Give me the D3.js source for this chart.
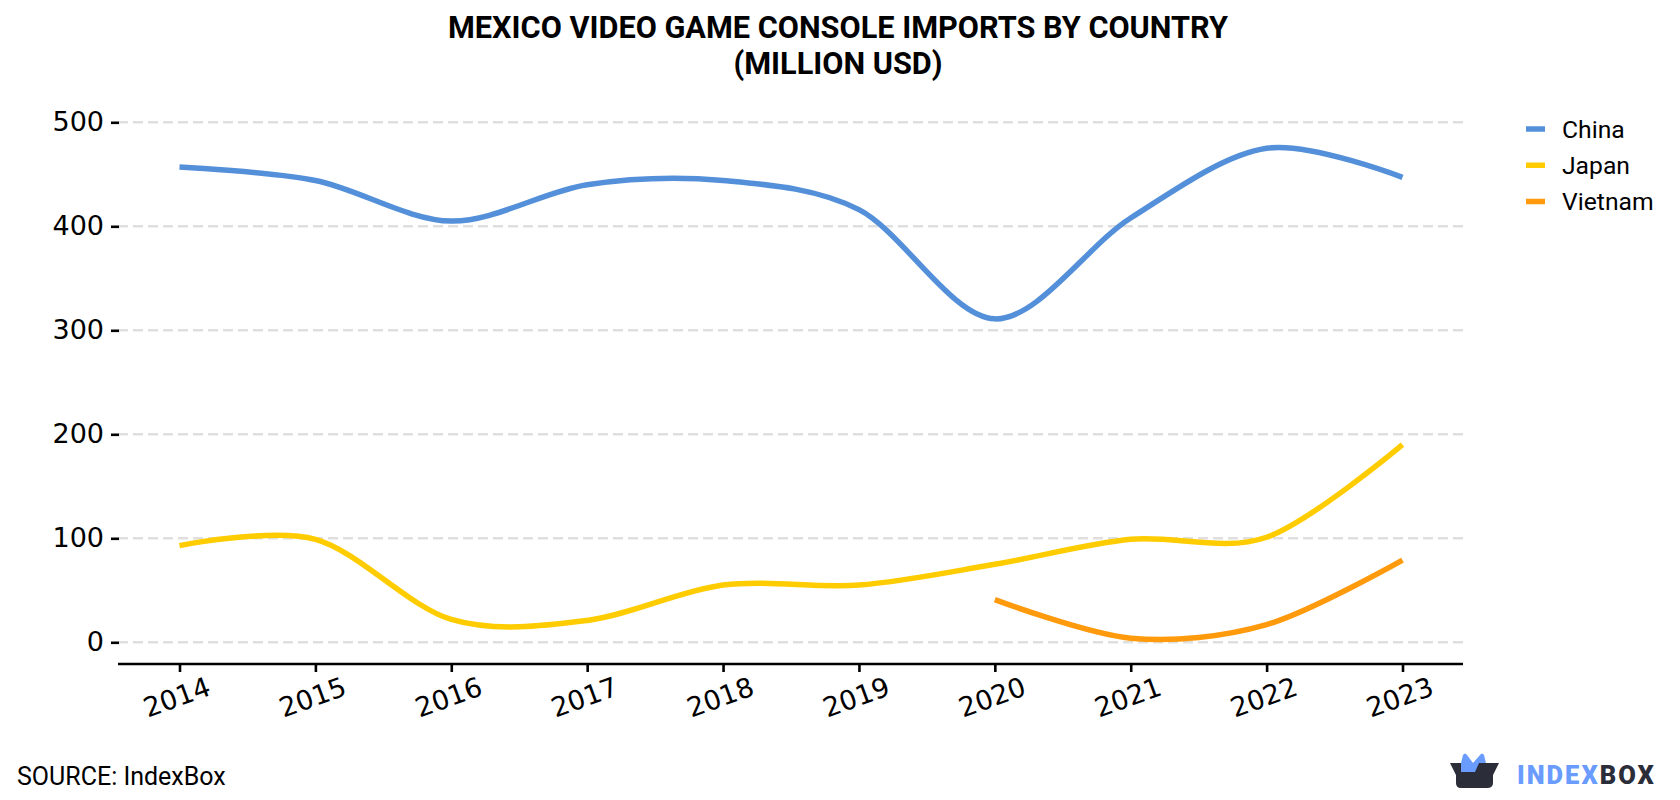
<!DOCTYPE html>
<html><head><meta charset="utf-8">
<script src="https://cdn.jsdelivr.net/npm/d3@7"></script>
<style>html,body{margin:0;background:#fff}svg{display:block}</style></head>
<body><div id="chart"></div>
<script>
const years = [2014,2015,2016,2017,2018,2019,2020,2021,2022,2023];
const china = [457,444,405,440,444,416,311,408,475,447];
const japan = [93,99,22,21,55,55,75,99,101,190];
const vietnam = [null,null,null,null,null,null,41,4,17,79];
const yTicks = [0,100,200,300,400,500];
const seriesNames = ["China","Japan","Vietnam"];
const seriesColors = ["#5490da","#ffcc00","#ff9a0c"];
const seriesValues = [china,japan,vietnam];

const svg = d3.select("#chart").append("svg").attr("width",1680).attr("height",800);
const x = d3.scaleLinear().domain([2014,2023]).range([179.5,1402.5]);
const y = d3.scaleLinear().domain([0,500]).range([642.3,122.3]);
const plotLeft = 118, plotRight = 1463, axisY = 664;

// Horizontal dashed grid
svg.append("g").selectAll("line").data(yTicks).join("line")
  .attr("x1",plotLeft).attr("x2",plotRight).attr("y1",d=>y(d)).attr("y2",d=>y(d))
  .attr("stroke","#dfdfdf").attr("stroke-width",2.6).attr("stroke-dasharray","10 5");

// Left axis: ticks and labels only
const yAxis = svg.append("g").attr("transform",`translate(${plotLeft+1},0)`)
  .call(d3.axisLeft(y).tickValues(yTicks).tickSize(8).tickPadding(7));
yAxis.select(".domain").remove();
yAxis.selectAll("line").attr("stroke","#000").attr("stroke-width",2.6);
yAxis.selectAll("text").attr("font-family","DejaVu Sans").attr("font-size",27).attr("fill","#000");

// Bottom axis with slanted year labels
const xAxis = svg.append("g").attr("transform",`translate(0,${axisY})`)
  .call(d3.axisBottom(x).tickValues(years).tickFormat(d3.format("d")).tickSize(8).tickSizeOuter(0));
xAxis.select(".domain").attr("d",`M${plotLeft},0H${plotRight}`).attr("stroke","#000").attr("stroke-width",2.6);
xAxis.selectAll("line").attr("stroke","#000").attr("stroke-width",2.6);
xAxis.selectAll("text").attr("font-family","DejaVu Sans").attr("font-size",27).attr("fill","#000")
  .attr("text-anchor","middle").attr("dy",0).attr("y",0)
  .attr("transform","translate(0,42) rotate(-20)");

// Smoothed series lines
const line = d3.line().x(d=>x(d.year)).y(d=>y(d.v)).curve(d3.curveCardinal.tension(0.05));
seriesValues.forEach((vals,i)=>{
  const pts = years.map((year,j)=>({year,v:vals[j]})).filter(d=>d.v!==null);
  svg.append("path").attr("d",line(pts)).attr("fill","none")
    .attr("stroke",seriesColors[i]).attr("stroke-width",5.5);
});

// Legend
const legendY = d3.scalePoint().domain(seriesNames).range([129,201.5]);
const legend = svg.append("g").selectAll("g").data(seriesNames).join("g")
  .attr("transform",d=>`translate(0,${legendY(d)})`);
legend.append("line").attr("x1",1526).attr("x2",1545)
  .attr("stroke",(d,i)=>seriesColors[i]).attr("stroke-width",5.5);
legend.append("text").attr("x",1562).attr("dy","0.35em").text(d=>d)
  .attr("font-family","Roboto").attr("font-size",24.7).attr("fill","#000");

// Title
const title = svg.append("text")
  .attr("font-family","Roboto").attr("font-weight",700).attr("font-size",30.7).attr("fill","#000")
  .attr("text-anchor","middle");
title.append("tspan").attr("x",838).attr("y",38).text("MEXICO VIDEO GAME CONSOLE IMPORTS BY COUNTRY");
title.append("tspan").attr("x",838).attr("y",74).text("(MILLION USD)");

// Source note
svg.append("text").attr("x",17).attr("y",785).text("SOURCE: IndexBox")
  .attr("font-family","Roboto").attr("font-size",25).attr("fill","#000");

// Brand mark
const brand = svg.append("g");
brand.append("path").attr("fill","#2b2d38")
  .attr("d","M1450,763L1499,763L1493,775L1493,783Q1493,788 1487,788L1461,788Q1456,788 1456,783L1456,775Z");
brand.append("path").attr("fill","#6a9cff")
  .attr("d","M1461,772L1461,763L1463,755Q1465,752 1467,755L1473,763L1480,755Q1482,752 1484,755L1486,763L1479,763L1475,772Z");
const word = svg.append("text").attr("x",1517).attr("y",784)
  .attr("font-family","Roboto").attr("font-weight",900).attr("font-size",25.5).attr("letter-spacing",2);
word.append("tspan").attr("fill","#6a9cff").text("INDEX");
word.append("tspan").attr("fill","#2b2d38").text("BOX");
</script></body></html>
